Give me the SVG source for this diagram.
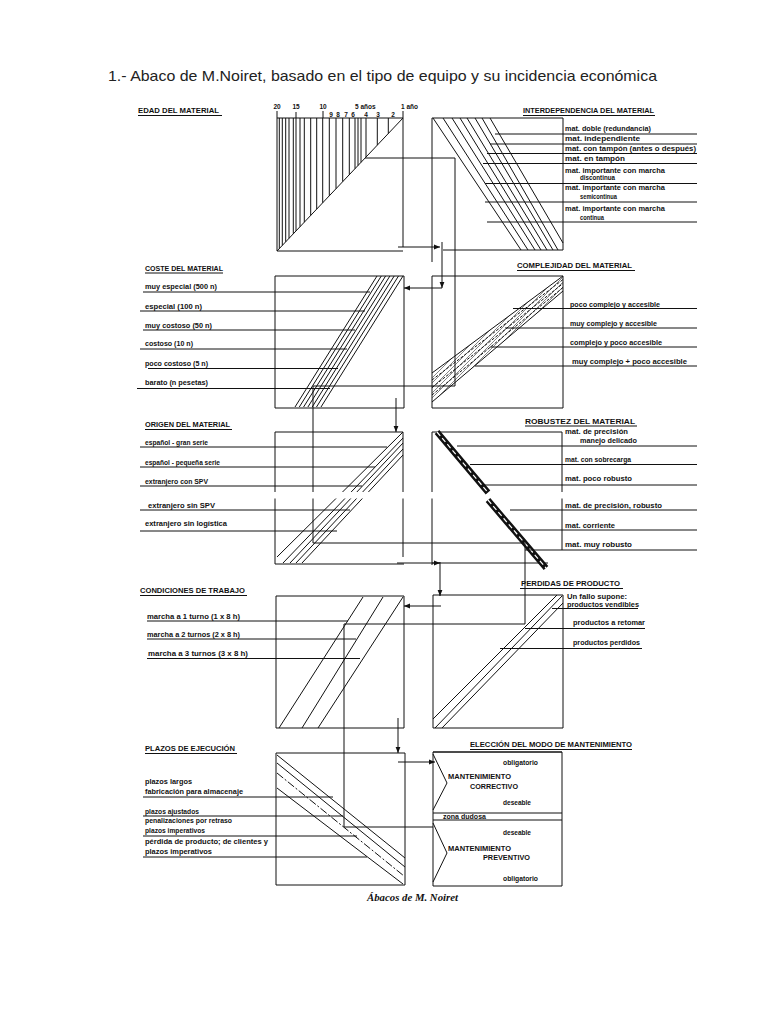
<svg xmlns="http://www.w3.org/2000/svg" width="768" height="1024" viewBox="0 0 768 1024">
<defs>
<style>
.s{stroke:#111;stroke-width:1;fill:none}
.d{stroke:#111;stroke-width:1;fill:none;stroke-dasharray:3 1.5}
.l{font-family:"Liberation Sans",Arial,sans-serif;font-weight:bold;font-size:6.5px;fill:#111}
.h{font-family:"Liberation Sans",Arial,sans-serif;font-weight:bold;font-size:7px;fill:#111}
.n{font-family:"Liberation Sans",Arial,sans-serif;font-weight:bold;font-size:6.5px;fill:#111;text-anchor:middle}
.b{font-family:"Liberation Sans",Arial,sans-serif;font-weight:bold;font-size:7px;fill:#111}
</style>
<marker id="ah" viewBox="0 0 10 10" refX="10" refY="5" markerWidth="8" markerHeight="6" markerUnits="userSpaceOnUse" orient="auto"><path d="M0,1 L10,5 L0,9 z" fill="#111"/></marker>
<clipPath id="gap"><rect x="0" y="0" width="768" height="492"/><rect x="0" y="498.5" width="768" height="526"/></clipPath>
<pattern id="hatch" patternUnits="userSpaceOnUse" width="5" height="5"><path d="M0,5 L5,0" stroke="#333" stroke-width="0.6"/></pattern>
</defs>
<rect width="768" height="1024" fill="#fff"/>
<text x="108" y="81" font-family="Liberation Sans, Arial, sans-serif" font-size="15" fill="#222" textLength="549" lengthAdjust="spacingAndGlyphs">1.- Abaco de M.Noiret, basado en el tipo de equipo y su incidencia económica</text>

<g id="edad">
<text class="h" x="138" y="113" textLength="81" lengthAdjust="spacingAndGlyphs">EDAD DEL MATERIAL</text>
<path class="s" d="M138,115.5 H222"/>
<text class="n" x="277" y="109">20</text>
<text class="n" x="296" y="109">15</text>
<text class="n" x="323" y="109">10</text>
<text class="l" x="355" y="109">5 años</text>
<text class="l" x="401" y="109">1 año</text>
<text class="n" x="331" y="116.5">9</text>
<text class="n" x="338" y="116.5">8</text>
<text class="n" x="346" y="116.5">7</text>
<text class="n" x="353" y="116.5">6</text>
<text class="n" x="366" y="116.5">4</text>
<text class="n" x="378" y="116.5">3</text>
<text class="n" x="393" y="116.5">2</text>
<path class="s" d="M277,111 V251 H403 M277,118 H403 M403,111 V247 M277,251 L403,118 M296,112 V118 M323,111 V118"/>
<path class="s" stroke-width="0.9" d="M279.3,118 V248.6 M282.3,118 V245.4 M285.7,118 V241.8 M289,118 V238.3 M293.3,118 V233.8 M296,118 V230.9 M300,118 V226.7 M304.3,118 V222.2 M310.7,118 V215.4 M316.7,118 V209.1 M322.7,118 V202.8 M329.3,118 V195.8 M336,118 V188.7 M342.7,118 V181.6 M349.3,118 V174.7 M355,118 V168.7 M358,118 V165.5 M361,118 V162.3 M366,118 V157.1 M377.3,118 V145.1 M388.3,118 V133.5"/>
</g>

<g id="interdependencia">
<text class="h" x="523" y="113" textLength="131" lengthAdjust="spacingAndGlyphs">INTERDEPENDENCIA DEL MATERIAL</text>
<path class="s" d="M523,115.5 H655"/>
<path class="s" d="M432,118 H563 V250 H443 M432,118 V262"/>
<path class="s" stroke-width="0.9" d="M433,118 L521,250 M443,118 L528,250 M452,118 L535,250 M460,118 L541,250 M467,118 L547,250 M475,118 L553,250 M482,118 L558,250 M490,118 L563,243"/>
<text class="l" x="565" y="131" textLength="86" lengthAdjust="spacingAndGlyphs">mat. doble (redundancia)</text>
<text class="l" x="565" y="141" textLength="75" lengthAdjust="spacingAndGlyphs">mat. independiente</text>
<text class="l" x="565" y="150.5" textLength="131" lengthAdjust="spacingAndGlyphs">mat. con tampón (antes o después)</text>
<text class="l" x="565" y="160.5" textLength="60" lengthAdjust="spacingAndGlyphs">mat. en tampón</text>
<text class="l" x="565" y="172.5" textLength="100" lengthAdjust="spacingAndGlyphs">mat. importante con marcha</text>
<text class="l" x="580" y="180" textLength="35" lengthAdjust="spacingAndGlyphs">discontinua</text>
<text class="l" x="565" y="190" textLength="100" lengthAdjust="spacingAndGlyphs">mat. importante con marcha</text>
<text class="l" x="580" y="198.5" textLength="37" lengthAdjust="spacingAndGlyphs">semicontinua</text>
<text class="l" x="565" y="211" textLength="100" lengthAdjust="spacingAndGlyphs">mat. importante con marcha</text>
<text class="l" x="580" y="219.5" textLength="24" lengthAdjust="spacingAndGlyphs">continua</text>
<path class="s" d="M495,134 H697 M490,144 H697 M487,153.5 H697 M483,163.5 H697 M485,183.5 H697 M485,202 H697 M487,222 H697"/>
</g>

<g id="coste">
<text class="h" x="145" y="270.5" textLength="78" lengthAdjust="spacingAndGlyphs">COSTE DEL MATERIAL</text>
<path class="s" d="M145,273 H223"/>
<path class="s" d="M275,276 H404 V408 H275 Z"/>
<path class="s" stroke-width="0.9" d="M377,276 L295,407 M381.3,276 L299.3,407 M385.6,276 L303.6,407 M389.9,276 L307.9,407 M394.2,276 L312.2,407 M398.5,276 L316.5,407 M403,276 L321,407"/>
<text class="l" x="145" y="289" textLength="72" lengthAdjust="spacingAndGlyphs">muy especial (500 n)</text>
<text class="l" x="145" y="309" textLength="57" lengthAdjust="spacingAndGlyphs">especial (100 n)</text>
<text class="l" x="145" y="327.5" textLength="67" lengthAdjust="spacingAndGlyphs">muy costoso (50 n)</text>
<text class="l" x="145" y="346" textLength="48" lengthAdjust="spacingAndGlyphs">costoso (10 n)</text>
<text class="l" x="145" y="365.5" textLength="63" lengthAdjust="spacingAndGlyphs">poco costoso (5 n)</text>
<text class="l" x="145" y="385" textLength="63" lengthAdjust="spacingAndGlyphs">barato (n pesetas)</text>
<path class="s" d="M143,292 H370 M140,311 H365 M143,330 H355 M140,349 H347 M148,368.5 H338 M137,388.5 H330"/>
</g>

<g id="complejidad">
<text class="h" x="517" y="268" textLength="115" lengthAdjust="spacingAndGlyphs">COMPLEJIDAD DEL MATERIAL</text>
<path class="s" d="M517,270.5 H635"/>
<path class="s" d="M432,276 H563 V408 H432 Z"/>
<path d="M432,373 L563,276 L563,291 L432,402 Z" fill="url(#hatch)" stroke="none"/>
<path class="s" d="M432,373 L563,276 M432,402 L563,291"/>
<path class="d" stroke-width="0.9" d="M432,380 L563,279.5 M432,387.5 L563,283.5 M432,395 L563,287.5"/>
<text class="l" x="570" y="306.5" textLength="90" lengthAdjust="spacingAndGlyphs">poco complejo y accesible</text>
<text class="l" x="570" y="325.5" textLength="87" lengthAdjust="spacingAndGlyphs">muy complejo y accesible</text>
<text class="l" x="570" y="344.5" textLength="92" lengthAdjust="spacingAndGlyphs">complejo y poco accesible</text>
<text class="l" x="572" y="363.5" textLength="115" lengthAdjust="spacingAndGlyphs">muy complejo + poco accesible</text>
<path class="s" d="M513,308.5 H697 M505,328 H697 M490,347 H697 M475,366 H697"/>
</g>

<g id="origen">
<text class="h" x="145" y="427" textLength="85" lengthAdjust="spacingAndGlyphs">ORIGEN DEL MATERIAL</text>
<path class="s" d="M145,429.5 H232"/>
<g clip-path="url(#gap)">
<path class="s" d="M275,432 H403 V557 M275,432 V564 H404"/>
<path class="s" stroke-width="0.9" d="M277,557 L403,432 M283,563 L403,438 M290,563 L403,443 M296,563 L403,449 M302,563 L403,455"/>
</g>
<text class="l" x="145" y="445" textLength="63" lengthAdjust="spacingAndGlyphs">español - gran serie</text>
<text class="l" x="145" y="464.5" textLength="75" lengthAdjust="spacingAndGlyphs">español - pequeña serie</text>
<text class="l" x="145" y="484" textLength="63" lengthAdjust="spacingAndGlyphs">extranjero con SPV</text>
<text class="l" x="148" y="507.5" textLength="67" lengthAdjust="spacingAndGlyphs">extranjero sin SPV</text>
<text class="l" x="145" y="526" textLength="82" lengthAdjust="spacingAndGlyphs">extranjero sin logística</text>
<path class="s" d="M140,447 H387 M140,467 H375 M140,486 H362 M140,510 H350 M140,531 H337"/>
</g>

<g id="robustez">
<text class="h" x="525" y="423.5" textLength="110" lengthAdjust="spacingAndGlyphs">ROBUSTEZ DEL MATERIAL</text>
<path class="s" d="M525,426 H637"/>
<g clip-path="url(#gap)">
<path class="s" d="M432,432 H562 V550 M432,432 V565 M432,563 H548"/>
</g>
<path d="M437,432 L488,492.5 M488,500 L546,568" stroke="#111" stroke-width="6" fill="none"/>
<path d="M437,432 L488,492.5 M488,500 L546,568" stroke="#fff" stroke-width="1.2" stroke-dasharray="5 3" fill="none"/>
<text class="l" x="565" y="434" textLength="63" lengthAdjust="spacingAndGlyphs">mat. de precisión</text>
<text class="l" x="580" y="442.5" textLength="57" lengthAdjust="spacingAndGlyphs">manejo delicado</text>
<text class="l" x="565" y="462" textLength="66" lengthAdjust="spacingAndGlyphs">mat. con sobrecarga</text>
<text class="l" x="565" y="480.5" textLength="67" lengthAdjust="spacingAndGlyphs">mat. poco robusto</text>
<text class="l" x="565" y="507.5" textLength="97" lengthAdjust="spacingAndGlyphs">mat. de precisión, robusto</text>
<text class="l" x="565" y="527.5" textLength="50" lengthAdjust="spacingAndGlyphs">mat. corriente</text>
<text class="l" x="565" y="547" textLength="67" lengthAdjust="spacingAndGlyphs">mat. muy robusto</text>
<path class="s" d="M457,446 H697 M470,464.5 H697 M483,485 H697 M510,510 H697 M520,530 H697 M525,550 H697"/>
</g>

<g id="condiciones">
<text class="h" x="140" y="592.5" textLength="105" lengthAdjust="spacingAndGlyphs">CONDICIONES DE TRABAJO</text>
<path class="s" d="M140,595.5 H247"/>
<path class="s" d="M276,596 H404 V728 H276 Z"/>
<path class="s" stroke-width="0.9" d="M279,728 L363,597 M302,728 L383,597 M318,728 L403,597"/>
<text class="l" x="147" y="619" textLength="93" lengthAdjust="spacingAndGlyphs">marcha a 1 turno (1 x 8 h)</text>
<text class="l" x="147" y="637" textLength="93" lengthAdjust="spacingAndGlyphs">marcha a 2 turnos (2 x 8 h)</text>
<text class="l" x="148" y="656" textLength="100" lengthAdjust="spacingAndGlyphs">marcha a 3 turnos (3 x 8 h)</text>
<path class="s" d="M147,621 H348 M147,639 H356 M147,658.5 H360"/>
</g>

<g id="perdidas">
<text class="h" x="521" y="585.5" textLength="99" lengthAdjust="spacingAndGlyphs">PERDIDAS DE PRODUCTO</text>
<path class="s" d="M520,588.5 H623"/>
<path class="s" d="M433,595 H563 V728 H433 Z"/>
<path class="s" stroke-width="0.9" d="M433,719 L557,595 M435,728 L562,596 M442,728 L563,603"/>
<text class="b" x="567" y="599" textLength="60" lengthAdjust="spacingAndGlyphs">Un fallo supone:</text>
<text class="l" x="567" y="606.5" textLength="72" lengthAdjust="spacingAndGlyphs">productos vendibles</text>
<text class="l" x="573" y="625" textLength="72" lengthAdjust="spacingAndGlyphs">productos a retomar</text>
<text class="l" x="573" y="645" textLength="67" lengthAdjust="spacingAndGlyphs">productos perdidos</text>
<path class="s" d="M552,608.5 H638 M525,628.5 H645 M500,648.5 H642"/>
</g>

<g id="plazos">
<text class="h" x="145" y="750.5" textLength="90" lengthAdjust="spacingAndGlyphs">PLAZOS DE EJECUCIÓN</text>
<path class="s" d="M145,753.5 H237"/>
<path class="s" d="M276,753 H405 V885 H276 Z"/>
<path class="s" stroke-width="0.9" d="M277,755 L405,858 M277,763 L405,867 M277,788 L403,884"/>
<path class="s" stroke-width="0.9" stroke-dasharray="8 2 2 2" d="M277,773 L404,876"/>
<text class="l" x="145" y="784" textLength="47" lengthAdjust="spacingAndGlyphs">plazos largos</text>
<text class="l" x="145" y="793.5" textLength="98" lengthAdjust="spacingAndGlyphs">fabricación para almacenaje</text>
<text class="l" x="145" y="813.5" textLength="54" lengthAdjust="spacingAndGlyphs">plazos ajustados</text>
<text class="l" x="145" y="823" textLength="87" lengthAdjust="spacingAndGlyphs">penalizaciones por retraso</text>
<text class="l" x="145" y="833" textLength="60" lengthAdjust="spacingAndGlyphs">plazos imperativos</text>
<text class="l" x="145" y="844" textLength="123" lengthAdjust="spacingAndGlyphs">pérdida de producto; de clientes y</text>
<text class="l" x="145" y="853.5" textLength="67" lengthAdjust="spacingAndGlyphs">plazos imperativos</text>
<path class="s" d="M143,797 H333 M143,816 H343 M143,836 H357 M143,857 H367"/>
<text x="367" y="901" font-family="Liberation Serif, Times New Roman, serif" font-style="italic" font-weight="bold" font-size="9.5" fill="#111" textLength="91" lengthAdjust="spacingAndGlyphs">Ábacos de M. Noiret</text>
</g>

<g id="eleccion">
<text class="h" x="470" y="747" textLength="162" lengthAdjust="spacingAndGlyphs">ELECCIÓN DEL MODO DE MANTENIMIENTO</text>
<path class="s" d="M470,749.5 H632" stroke-width="1.3"/>
<path class="s" d="M433,752 H562 V886 H433 Z M433,813 H562 M433,820 H562"/>
<path class="s" d="M433,752 H562" stroke-width="1.6"/>
<path class="s" d="M433,754 L447,783 L433,810 M433,823 L447,853 L433,882"/>
<text class="l" x="503" y="765" textLength="35" lengthAdjust="spacingAndGlyphs">obligatorio</text>
<text class="b" x="448" y="779" textLength="63" lengthAdjust="spacingAndGlyphs">MANTENIMIENTO</text>
<text class="b" x="470" y="788.5" textLength="48" lengthAdjust="spacingAndGlyphs">CORRECTIVO</text>
<text class="l" x="503" y="805" textLength="28" lengthAdjust="spacingAndGlyphs">deseable</text>
<text class="l" x="443" y="819" font-size="5.5" textLength="43" lengthAdjust="spacingAndGlyphs">zona dudosa</text>
<text class="l" x="503" y="835" textLength="28" lengthAdjust="spacingAndGlyphs">deseable</text>
<text class="b" x="448" y="850.5" textLength="63" lengthAdjust="spacingAndGlyphs">MANTENIMIENTO</text>
<text class="b" x="483" y="860" textLength="47" lengthAdjust="spacingAndGlyphs">PREVENTIVO</text>
<text class="l" x="503" y="881" textLength="35" lengthAdjust="spacingAndGlyphs">obligatorio</text>
</g>

<g id="connectors">
<path class="s" d="M365,158 H455 V386 H313 V543 H525 V624 H344 V827 H433" clip-path="url(#gap)"/>
<path class="s" d="M398,247 H440" marker-end="url(#ah)"/>
<path class="s" d="M442,242 V288" marker-end="url(#ah)"/>
<path class="s" d="M442,288 H404" marker-end="url(#ah)"/>
<path class="s" d="M396,398 V432" marker-end="url(#ah)"/>
<path class="s" d="M397,563 H440" marker-end="url(#ah)"/>
<path class="s" d="M440,562 V596" marker-end="url(#ah)"/>
<path class="s" d="M441,606 H404" marker-end="url(#ah)"/>
<path class="s" d="M398,718 V753" marker-end="url(#ah)"/>
<path class="s" d="M398,762 H435" marker-end="url(#ah)"/>
</g>
</svg>
